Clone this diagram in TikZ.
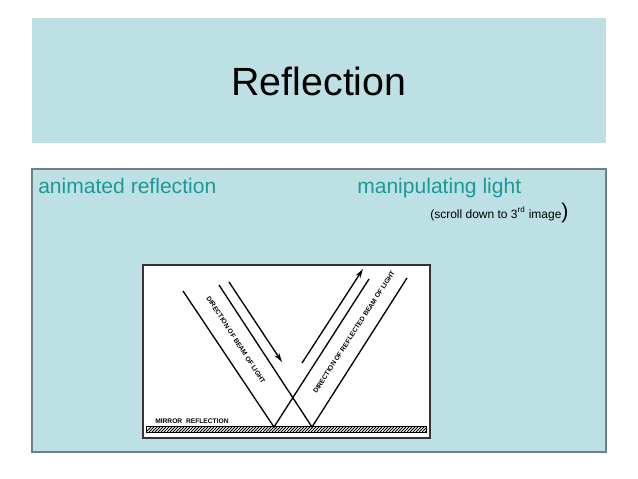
\documentclass[tikz,border=0pt]{standalone}
\usepackage{fontspec}
\setmainfont{Liberation Sans}
\usetikzlibrary{arrows.meta}
\begin{document}
\begin{tikzpicture}[x=0.75pt,y=-0.75pt,
  panel/.style={fill=slide},
  beam/.style={line width=1pt},
  arr/.style={beam,-{Stealth[length=7pt,width=4pt]}},
  teal/.style={text=tealtxt, anchor=base west, inner sep=0pt}]
\definecolor{slide}{HTML}{BCE0E3}
\definecolor{tealtxt}{HTML}{1C9A98}
\definecolor{bordergray}{HTML}{6E8188}
\useasboundingbox (0,0) rectangle (638,478);
\fill[white] (0,0) rectangle (638,478);
\fill[panel] (32,18) rectangle (606,143);
\node (title) at (319,81) {\fontsize{29.5}{31}\selectfont Reflection};
\draw[panel, draw=bordergray, line width=1pt] (32,169) rectangle (606,452);
\node[teal] (t1) at (38,193) {\fontsize{15.8}{17}\selectfont animated reflection};
\node[teal] (t2) at (357,193) {\fontsize{15.8}{17}\selectfont manipulating light};
\node[anchor=base west, inner sep=0pt] (t3) at (430,218) {\fontsize{9}{10}\selectfont (scroll down to 3\textsuperscript{rd} image\fontsize{16}{17}\selectfont)};
% picture
\draw[fill=white, draw=black!80, line width=0.8pt] (143,265) rectangle (430,438);
\coordinate (p1) at (274,427);
\coordinate (p2) at (312,427);
\coordinate (a1) at (183,291);
\coordinate (a2) at (219,285);
\coordinate (b1) at (369,279);
\coordinate (b2) at (407,278);
\coordinate (ia) at (229,282);
\coordinate (ib) at (282,362);
\coordinate (oa) at (302,363);
\coordinate (ob) at (363,269);
\draw[beam] (a1) -- (p1) -- (b1);
\draw[beam] (a2) -- (p2) -- (b2);
\draw[arr] (ia) -- (ib);
\draw[arr] (oa) -- (ob);
\begin{scope}
\clip (146,426) rectangle (426,432);
\foreach \i in {0,...,95} {\draw[line width=0.6pt] (146+3*\i,432) -- (152+3*\i,426);}
\end{scope}
\draw (146,426) rectangle (426,432);
\node[anchor=base west, inner sep=0pt, font=\bfseries] (mr) at (155,423) {\fontsize{5}{5}\selectfont MIRROR\ \ REFLECTION};
\node[rotate=-57, font=\bfseries] (l1) at (236,340) {\fontsize{5}{5}\selectfont DIRECTION OF BEAM OF LIGHT};
\node[rotate=57, font=\bfseries] (l2) at (354,332) {\fontsize{5}{5}\selectfont DIRECTION OF REFLECTED BEAM OF LIGHT};
\end{tikzpicture}
\end{document}
